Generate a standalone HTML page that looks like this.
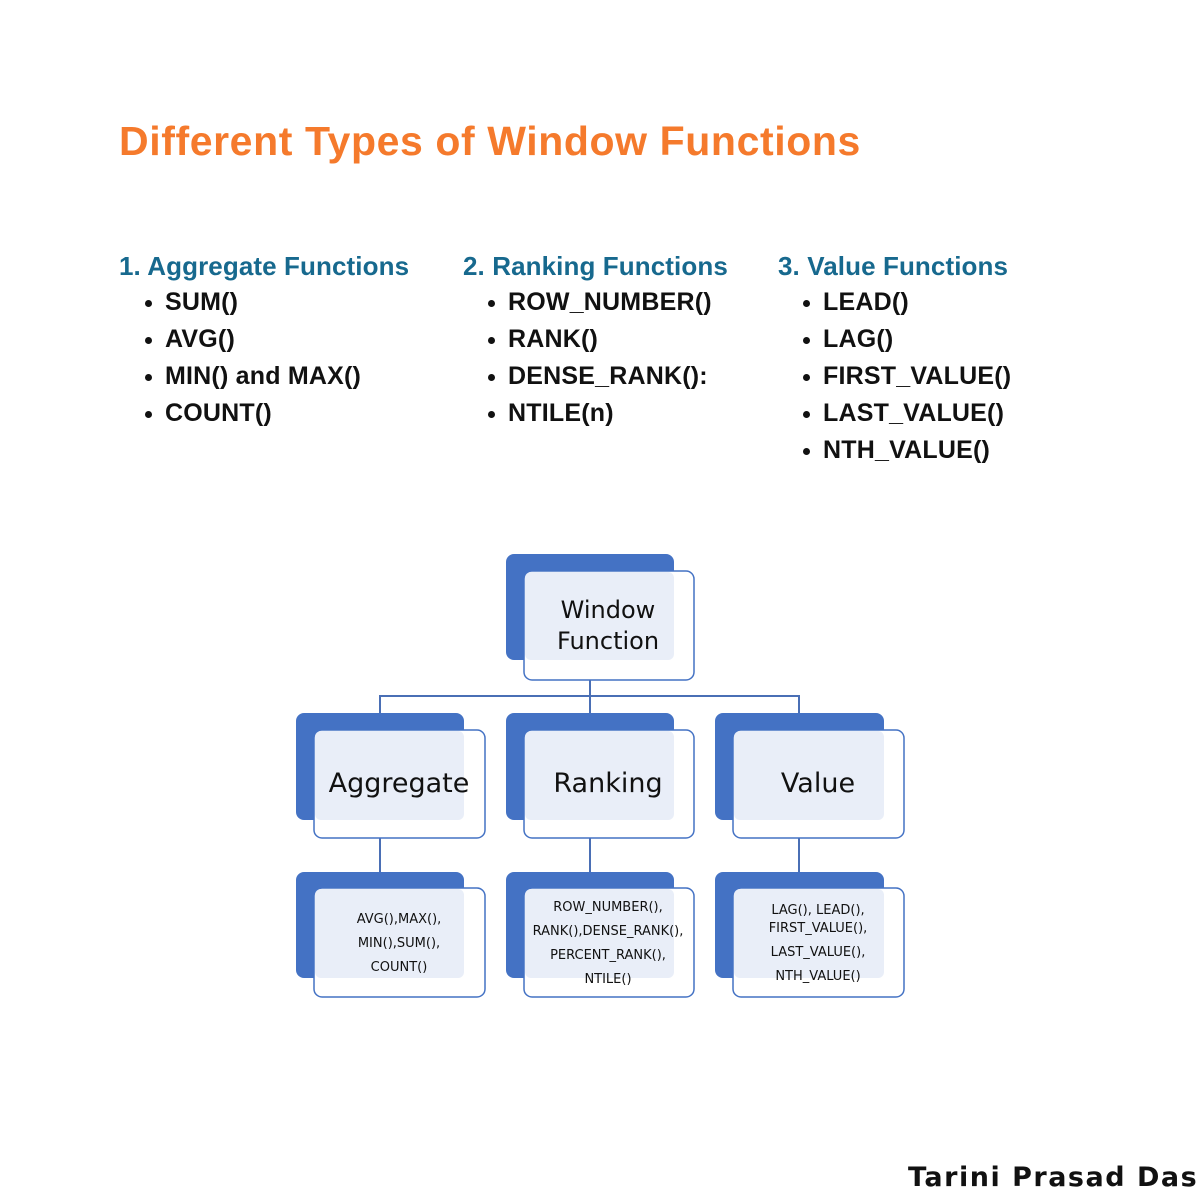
<!DOCTYPE html>
<html><head><meta charset="utf-8"><style>
body{margin:0;width:1200px;height:1200px;background:#fff;position:relative;font-family:"Liberation Sans",sans-serif;overflow:hidden}
.t{position:absolute;white-space:nowrap}
h1{position:absolute;left:119px;top:118px;margin:0;font-size:41px;color:#f57a2c;font-weight:bold;letter-spacing:0.6px;white-space:nowrap}
.h{position:absolute;font-size:26px;font-weight:bold;color:#17698e;letter-spacing:0.1px;white-space:nowrap}
ul{position:absolute;margin:0;padding:0 0 0 26px;list-style:none;font-size:25px;font-weight:bold;color:#111;letter-spacing:0.2px}
li{height:37px;line-height:28px;position:relative;padding-left:17px;white-space:nowrap}
li:before{content:"";position:absolute;left:-3px;top:12px;width:7px;height:7px;border-radius:50%;background:#111}
</style></head><body>
<h1>Different Types of Window Functions</h1>
<div class="h" style="left:119px;top:251px">1. Aggregate Functions</div>
<div class="h" style="left:463px;top:251px">2. Ranking Functions</div>
<div class="h" style="left:778px;top:251px">3. Value Functions</div>
<ul style="left:122px;top:288px"><li>SUM()</li><li>AVG()</li><li>MIN() and MAX()</li><li>COUNT()</li></ul>
<ul style="left:465px;top:288px"><li>ROW_NUMBER()</li><li>RANK()</li><li>DENSE_RANK():</li><li>NTILE(n)</li></ul>
<ul style="left:780px;top:288px"><li>LEAD()</li><li>LAG()</li><li>FIRST_VALUE()</li><li>LAST_VALUE()</li><li>NTH_VALUE()</li></ul>
<svg width="1200" height="1200" style="position:absolute;left:0;top:0" font-family="Liberation Sans, sans-serif">
<g stroke="#4a6fb5" stroke-width="2" fill="none">
<path d="M590 680V713M380 713V696H799V713M380 838V872M590 838V872M799 838V872"/>
</g>
<g>
<rect x="506" y="554" width="168" height="106" rx="8" fill="#4472c4"/><rect x="524" y="571" width="170" height="109" rx="8" fill="#fff" stroke="#4472c4" stroke-width="1.5"/><rect x="525" y="572" width="149" height="88" rx="6" fill="#e9eef8"/>
<rect x="296" y="713" width="168" height="107" rx="8" fill="#4472c4"/><rect x="314" y="730" width="171" height="108" rx="8" fill="#fff" stroke="#4472c4" stroke-width="1.5"/><rect x="315" y="731" width="149" height="89" rx="6" fill="#e9eef8"/>
<rect x="506" y="713" width="168" height="107" rx="8" fill="#4472c4"/><rect x="524" y="730" width="170" height="108" rx="8" fill="#fff" stroke="#4472c4" stroke-width="1.5"/><rect x="525" y="731" width="149" height="89" rx="6" fill="#e9eef8"/>
<rect x="715" y="713" width="169" height="107" rx="8" fill="#4472c4"/><rect x="733" y="730" width="171" height="108" rx="8" fill="#fff" stroke="#4472c4" stroke-width="1.5"/><rect x="734" y="731" width="150" height="89" rx="6" fill="#e9eef8"/>
<rect x="296" y="872" width="168" height="106" rx="8" fill="#4472c4"/><rect x="314" y="888" width="171" height="109" rx="8" fill="#fff" stroke="#4472c4" stroke-width="1.5"/><rect x="315" y="889" width="149" height="89" rx="6" fill="#e9eef8"/>
<rect x="506" y="872" width="168" height="106" rx="8" fill="#4472c4"/><rect x="524" y="888" width="170" height="109" rx="8" fill="#fff" stroke="#4472c4" stroke-width="1.5"/><rect x="525" y="889" width="149" height="89" rx="6" fill="#e9eef8"/>
<rect x="715" y="872" width="169" height="106" rx="8" fill="#4472c4"/><rect x="733" y="888" width="171" height="109" rx="8" fill="#fff" stroke="#4472c4" stroke-width="1.5"/><rect x="734" y="889" width="150" height="89" rx="6" fill="#e9eef8"/>
</g>
<g fill="#111" text-anchor="middle" font-family="DejaVu Sans, sans-serif">
<text x="608" y="618" font-size="24">Window</text><text x="608" y="649" font-size="24">Function</text>
<text x="399" y="792" font-size="27">Aggregate</text>
<text x="608" y="792" font-size="27">Ranking</text>
<text x="818" y="792" font-size="27">Value</text>
<g font-size="13">
<text x="399" y="923">AVG(),MAX(),</text><text x="399" y="947">MIN(),SUM(),</text><text x="399" y="971">COUNT()</text>
<text x="608" y="911">ROW_NUMBER(),</text><text x="608" y="935">RANK(),DENSE_RANK(),</text><text x="608" y="959">PERCENT_RANK(),</text><text x="608" y="983">NTILE()</text>
<text x="818" y="914">LAG(), LEAD(),</text><text x="818" y="932">FIRST_VALUE(),</text><text x="818" y="956">LAST_VALUE(),</text><text x="818" y="980">NTH_VALUE()</text>
</g></g>
</svg>
<div class="t" style="left:908px;top:1162px;font-size:27px;font-weight:bold;color:#111;letter-spacing:1.5px;font-family:'DejaVu Sans',sans-serif">Tarini Prasad Das</div>
</body></html>
